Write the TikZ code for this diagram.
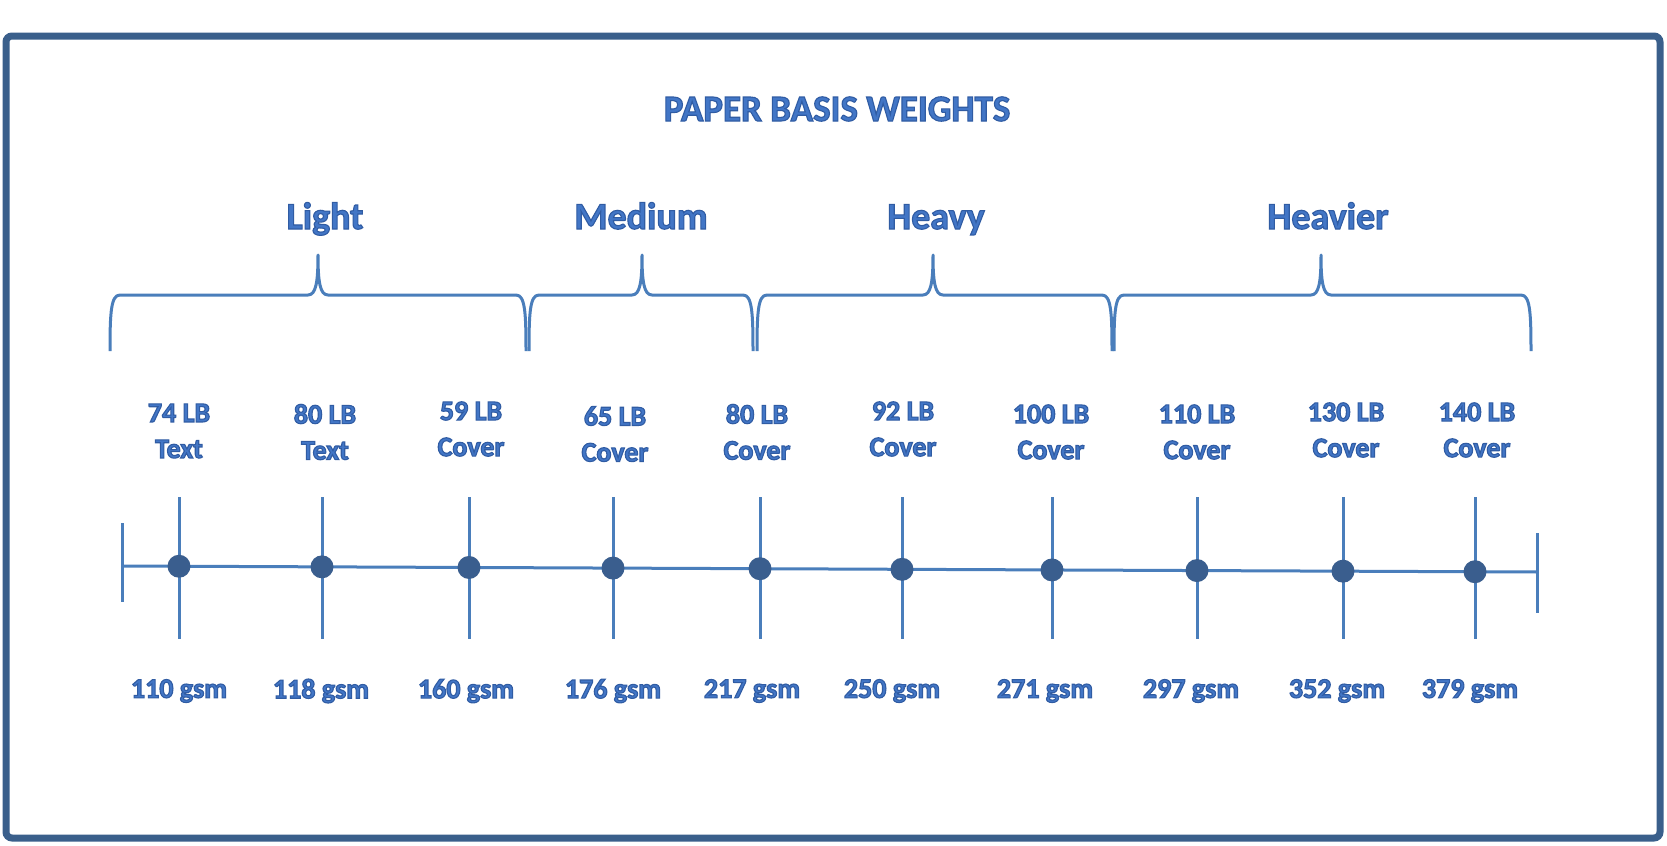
\documentclass[tikz,border=0pt]{standalone}
\usepackage{fontspec}
\setmainfont{Carlito}
\definecolor{txtblue}{HTML}{4276C6}
\definecolor{lnblue}{HTML}{4A7EBB}
\definecolor{bordercol}{HTML}{3A5F8B}
\definecolor{dotcol}{HTML}{3A5E8E}
\newcommand\outl[1]{\special{pdf:code 2 Tr 0.55 w 0.19 0.36 0.64 RG}#1\special{pdf:code 0 Tr}}
\begin{document}
\begin{tikzpicture}[x=0.5pt,y=-0.5pt,
  ttl/.style={font=\bfseries\fontsize{18.5}{22}\selectfont, text=txtblue, inner sep=0, anchor=base},
  grp/.style={font=\bfseries\fontsize{19}{23}\selectfont, text=txtblue, inner sep=0, anchor=base},
  lbl/.style={font=\bfseries\fontsize{14}{18}\selectfont, text=txtblue, align=center, inner sep=0},
  gsm/.style={font=\bfseries\fontsize{14}{18}\selectfont, text=txtblue, inner sep=0},
  ln/.style={draw=lnblue, line width=1.5pt},
  brc/.style={draw=lnblue, line width=1.5pt, line join=round}]
\useasboundingbox (0,0) rectangle (1667,846);
\fill[white] (0,0) rectangle (1667,846);
\draw[bordercol, line width=3.5pt, rounded corners=3pt] (6,36) rectangle (1660,838);

\node[ttl] (title) at (837,121) {\outl{PAPER BASIS WEIGHTS}};

\node[grp] (light) at (325,229) {\outl{Light}};
\node[grp] (medium) at (641,229) {\outl{Medium}};
\node[grp] (heavy) at (936,229) {\outl{Heavy}};
\node[grp] (heavier) at (1328,229) {\outl{Heavier}};

\newcommand\mybrace[3]{%
  \draw[brc] (#1,351) .. controls (#1,312) and (#1+1,295) .. (#1+10,295)
    -- (#2-10,295) .. controls (#2-2,295) and (#2,282) .. (#2,255)
    .. controls (#2,282) and (#2+2,295) .. (#2+10,295)
    -- (#3-10,295) .. controls (#3-1,295) and (#3,312) .. (#3,351);}
\mybrace{110}{318}{526}
\mybrace{529}{642}{753}
\mybrace{757}{933}{1112}
\mybrace{1114}{1321}{1531}

\coordinate (axL) at (122,566);
\coordinate (axR) at (1537,572);
\draw[ln] (axL) -- (axR);
\draw[ln] (122,523) -- (122,602);
\draw[ln] (1537,533) -- (1537,613);

\foreach \x/\lx/\gx/\ly/\a/\b/\g [count=\i] in {
  179/179/179/431/74 LB/Text/110 gsm,
  322/325/321/432/80 LB/Text/118 gsm,
  469/471/466/429/59 LB/Cover/160 gsm,
  613/615/613/434/65 LB/Cover/176 gsm,
  760/757/752/432/80 LB/Cover/217 gsm,
  902/903/892/429/92 LB/Cover/250 gsm,
  1052/1051/1045/432/100 LB/Cover/271 gsm,
  1197/1197/1191/432/110 LB/Cover/297 gsm,
  1343/1346/1337/430/130 LB/Cover/352 gsm,
  1475/1477/1470/430/140 LB/Cover/379 gsm}{
  \pgfmathsetmacro\yy{566+(\x-122)*6/1415}
  \coordinate (t\i) at (\x,\yy);
  \draw[ln] (\x,497) -- (\x,639);
  \fill[dotcol] (t\i) circle[radius=11.5];
  \node[lbl] (lb\i) at (\lx,\ly) {\outl{\a}\\\outl{\b}};
  \node[gsm] (g\i) at (\gx,691) {\outl{\g}};
}
\end{tikzpicture}
\end{document}
